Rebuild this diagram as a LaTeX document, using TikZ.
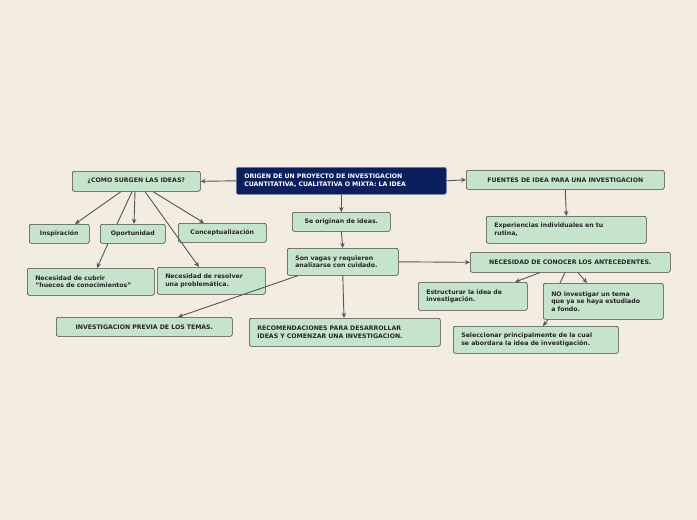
\documentclass[tikz,border=0pt]{standalone}
\usepackage{fontspec}
\setmainfont{DejaVu Sans}
\usetikzlibrary{arrows.meta}
\definecolor{bg}{HTML}{F3ECE1}
\definecolor{boxfill}{HTML}{C6E3CB}
\definecolor{navy}{HTML}{0B1F5E}
\definecolor{edge}{HTML}{555555}
\begin{document}
\begin{tikzpicture}[x=1pt,y=-1pt,
  box/.style={draw=black!75,line width=0.6pt,fill=boxfill,rounded corners=2pt,font=\fontsize{6.2}{7.6}\selectfont\bfseries,text=black!85,inner sep=0pt},
  conn/.style={draw=edge,line width=0.9pt},
  arr/.style={conn,-{Stealth[length=5pt,width=4.5pt]}}]
\fill[bg] (0,0) rectangle (697,520);
\newcommand{\bx}[8]{\node[box,#7,minimum width=#4-#2,minimum height=#5-#3,anchor=north west,text width=#4-#2-16,align=#8] (#1) at (#2,#3) {#6};}
\bx{root}{236}{167}{446}{194}{ORIGEN DE UN PROYECTO DE INVESTIGACION\\CUANTITATIVA, CUALITATIVA O MIXTA: LA IDEA}{fill=navy,text=white,draw=navy!60}{left}
\bx{como}{72}{171}{200}{191}{¿COMO SURGEN LAS IDEAS?}{}{center}
\bx{fuentes}{466}{170}{664}{189}{FUENTES DE IDEA PARA UNA INVESTIGACION}{}{center}
\bx{insp}{29}{224}{89}{243}{Inspiración}{}{center}
\bx{opor}{100}{224}{165}{243}{Oportunidad}{}{center}
\bx{conc}{178}{223}{266}{242}{Conceptualización}{}{center}
\bx{seo}{292}{212}{390}{231}{Se originan de ideas.}{}{center}
\bx{son}{287}{248}{398}{275}{Son vagas y requieren\\analizarse con cuidado.}{}{left}
\bx{cub}{27}{268}{154}{295}{Necesidad de cubrir\\"huecos de conocimientos"}{}{left}
\bx{res}{157}{267}{265}{294}{Necesidad de resolver\\una problemática.}{}{left}
\bx{prev}{56}{317}{232}{336}{INVESTIGACION PREVIA DE LOS TEMAS.}{}{center}
\bx{rec}{249}{318}{440}{346}{RECOMENDACIONES PARA DESARROLLAR\\IDEAS Y COMENZAR UNA INVESTIGACION.}{}{left}
\bx{exp}{486}{216}{646}{243}{Experiencias individuales en tu\\rutina,}{}{left}
\bx{nec}{470}{252}{670}{272}{NECESIDAD DE CONOCER LOS ANTECEDENTES.}{}{center}
\bx{est}{418}{282}{527}{310}{Estructurar la idea de\\investigación.}{}{left}
\bx{noi}{543}{283}{663}{319}{NO investigar un tema\\que ya se haya estudiado\\a fondo.}{}{left}
\bx{sel}{453}{326}{618}{353}{Seleccionar principalmente de la cual\\se abordara la idea de investigación.}{}{left}
\draw[arr] (root.west) -- (como.east);
\draw[arr] (root.east) -- (fuentes.west);
\draw[arr] (root.south) -- (seo.north);
\draw[arr] (seo.south) -- (son.north);
\draw[arr] (son.east) -- (nec.west);
\draw[arr] ([xshift=11pt]son.south west) -- ([xshift=122pt]prev.north west);
\draw[arr] (son.south) -- ([xshift=95pt]rec.north west);
\draw[arr] (fuentes.south) -- (exp.north);
\draw[arr] ([xshift=49pt]como.south west) -- ([xshift=46pt]insp.north west);
\draw[conn] ([xshift=60pt]como.south west) -- ([xshift=17pt]opor.north west);
\draw[arr] ([xshift=63pt]como.south west) -- ([xshift=34pt]opor.north west);
\draw[arr] ([xshift=8pt]opor.south west) -- ([xshift=70pt]cub.north west);
\draw[arr] ([xshift=73pt]como.south west) -- ([xshift=42pt]res.north west);
\draw[arr] ([xshift=81pt]como.south west) -- ([xshift=26pt]conc.north west);
\draw[arr] ([xshift=70pt]nec.south west) -- ([xshift=97pt]est.north west);
\draw[conn] ([xshift=95pt]nec.south west) -- ([xshift=17pt]noi.north west);
\draw[arr] ([xshift=108pt]nec.south west) -- ([xshift=44pt]noi.north west);
\draw[arr] ([xshift=5pt]noi.south west) -- ([xshift=90pt]sel.north west);
\end{tikzpicture}
\end{document}
